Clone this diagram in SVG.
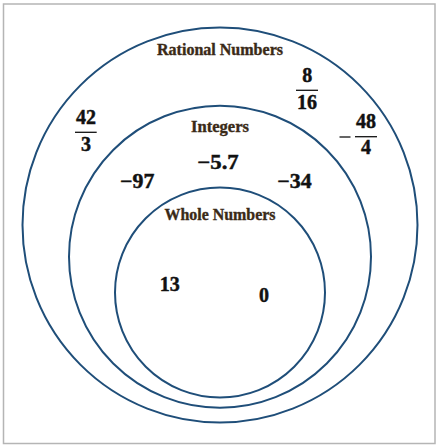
<svg xmlns="http://www.w3.org/2000/svg" width="439" height="448" viewBox="0 0 439 448">
<style>
.set{fill:none;stroke:#1F4E79;stroke-width:2}
.lbl{font-family:"Liberation Serif","DejaVu Serif",serif;font-weight:bold;font-size:16px;fill:#3a2a17;stroke:#3a2a17;stroke-width:0.35;text-anchor:middle}
.num{font-family:"Liberation Serif","DejaVu Serif",serif;font-weight:bold;font-size:20px;fill:#111;stroke:#111;stroke-width:0.45;text-anchor:middle}
.bar{stroke:#111;stroke-width:1.3}
</style>
<rect x="3.5" y="4" width="431.5" height="439.5" fill="#fff" stroke="#b5b5b5" stroke-width="1.5"/>
<g id="rational">
<circle class="set" cx="220" cy="225" r="197.5"/>
<text class="lbl" x="220" y="55" textLength="126" lengthAdjust="spacingAndGlyphs">Rational Numbers</text>
</g>
<g id="integers">
<circle class="set" cx="220" cy="256.7" r="151"/>
<text class="lbl" x="220" y="132" textLength="58" lengthAdjust="spacingAndGlyphs">Integers</text>
</g>
<g id="whole">
<circle class="set" cx="220" cy="292.5" r="105"/>
<text class="lbl" x="220" y="220" textLength="111" lengthAdjust="spacingAndGlyphs">Whole Numbers</text>
</g>
<g id="numbers">
<g id="n42over3">
<text class="num" x="86" y="124">42</text>
<line class="bar" x1="75" y1="132.3" x2="96.7" y2="132.3"/>
<text class="num" x="86" y="151">3</text>
</g>
<g id="n8over16">
<text class="num" x="307.3" y="82">8</text>
<line class="bar" x1="296" y1="90.3" x2="318" y2="90.3"/>
<text class="num" x="307" y="109">16</text>
</g>
<g id="nneg48over4">
<line class="bar" x1="339.5" y1="137" x2="350.5" y2="137"/>
<text class="num" x="366" y="128.3">48</text>
<line class="bar" x1="355" y1="136.7" x2="377" y2="136.7"/>
<text class="num" x="366" y="154.3">4</text>
</g>
<text class="num" x="137.2" y="188.3" textLength="34.3" lengthAdjust="spacingAndGlyphs">−97</text>
<text class="num" x="218" y="169.3" textLength="41.4" lengthAdjust="spacingAndGlyphs">−5.7</text>
<text class="num" x="294.5" y="187.7" textLength="34.3" lengthAdjust="spacingAndGlyphs">−34</text>
<text class="num" x="169.7" y="291">13</text>
<text class="num" x="264" y="301.7">0</text>
</g>
</svg>
